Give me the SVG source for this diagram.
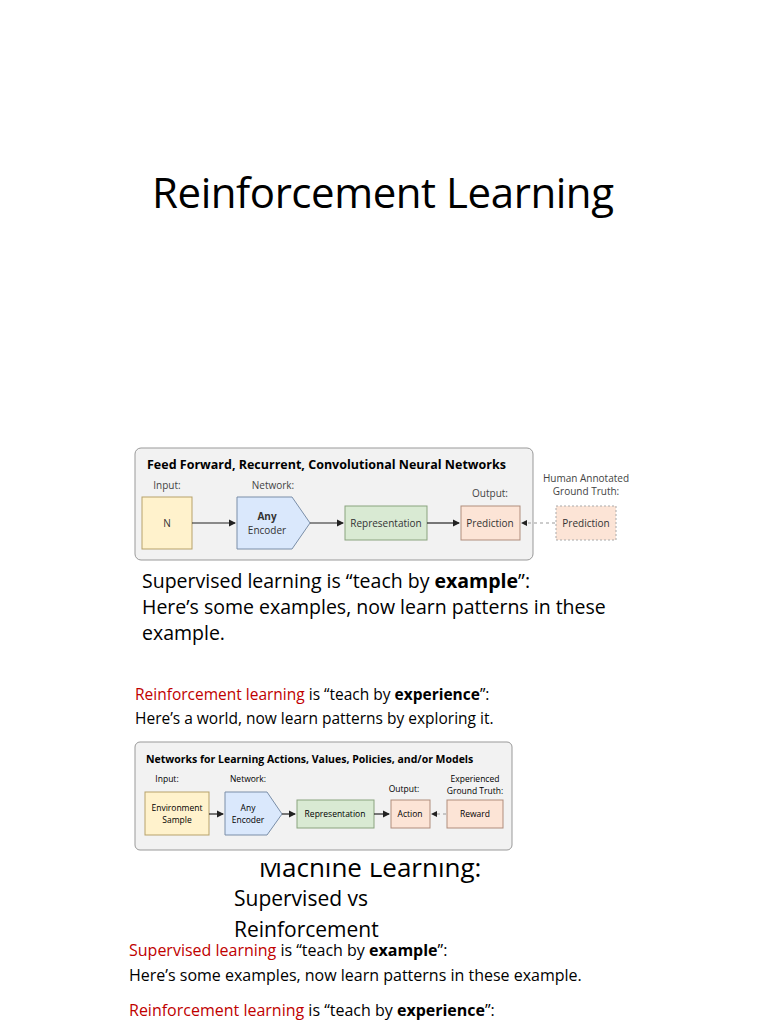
<svg xmlns="http://www.w3.org/2000/svg" width="768" height="1024" viewBox="0 0 768 1024">
<style>
text{font-family:"Open Sans","Liberation Sans",sans-serif;fill:#000}
.s{font-size:10px;fill:#444}
.t{font-size:10px;fill:#333}
.b{font-weight:bold}
.r{fill:#c00000}
.ln{stroke:#222;stroke-width:1.2;fill:none}
.dl{stroke:#999;stroke-width:1.2;stroke-dasharray:3,3;fill:none}
</style>
<defs>
<marker id="a" markerWidth="6" markerHeight="6" refX="5" refY="3" orient="auto"><path d="M0,0L6,3L0,6z" fill="#222"/></marker>
</defs>
<rect width="768" height="1024" fill="#fff"/>
<text x="383" y="208" font-size="42" text-anchor="middle" textLength="462">Reinforcement Learning</text>

<text x="370" y="877" font-size="26" text-anchor="middle">Machine Learning:</text>
<rect x="130" y="848" width="400" height="15" fill="#fff"/>

<g id="diagram1">
<rect x="135" y="448" width="398" height="112" rx="6" fill="#f2f2f2" stroke="#999"/>
<text x="147" y="469" font-size="12.5" class="b">Feed Forward, Recurrent, Convolutional  Neural Networks</text>
<text x="167" y="489" class="s" text-anchor="middle">Input:</text>
<text x="273" y="489" class="s" text-anchor="middle">Network:</text>
<text x="490" y="497" class="s" text-anchor="middle">Output:</text>
<text x="586" y="482" class="s" text-anchor="middle">Human Annotated</text>
<text x="586" y="495" class="s" text-anchor="middle">Ground Truth:</text>
<g id="n1"><rect x="142" y="497" width="50" height="52" fill="#fff2cc" stroke="#b7a26a"/><text x="167" y="527" class="t" text-anchor="middle">N</text></g>
<g id="enc1"><path d="M237,497H292L310,523L292,549H237Z" fill="#dae8fc" stroke="#7a8ea8"/><text x="267" y="520" class="t b" text-anchor="middle">Any</text><text x="267" y="534" class="t" text-anchor="middle">Encoder</text></g>
<g id="rep1"><rect x="345" y="506" width="82" height="34" fill="#d9ead3" stroke="#8aa37f"/><text x="386" y="527" class="t" text-anchor="middle">Representation</text></g>
<g id="pred1"><rect x="461" y="506" width="59" height="34" fill="#fce4d6" stroke="#b08d7d"/><text x="490" y="527" class="t" text-anchor="middle">Prediction</text></g>
<g id="gt1"><rect x="556" y="506" width="60" height="34" fill="#fce4d6" stroke="#aaa" stroke-dasharray="2,2"/><text x="586" y="527" class="t" text-anchor="middle">Prediction</text></g>
<g id="c1">
<path class="ln" d="M192,523H235" marker-end="url(#a)"/>
<path class="ln" d="M310,523H343" marker-end="url(#a)"/>
<path class="ln" d="M427,523H459" marker-end="url(#a)"/>
<path class="dl" d="M555,523H528"/><path d="M527,520L521,523L527,526z" fill="#222"/>
</g>
</g>

<text x="142" y="588" font-size="19.5">Supervised learning is “teach by <tspan class="b">example</tspan>”:</text>
<text x="142" y="614" font-size="19.5">Here’s some examples, now learn patterns in these</text>
<text x="142" y="640" font-size="19.5">example.</text>

<text x="135" y="700" font-size="15.5"><tspan class="r">Reinforcement learning</tspan> is “teach by <tspan class="b">experience</tspan>”:</text>
<text x="135" y="724" font-size="15.5">Here’s a world, now learn patterns by exploring it.</text>

<g id="diagram2">
<rect x="135" y="742" width="377" height="108" rx="5" fill="#f2f2f2" stroke="#999"/>
<text x="146" y="763" font-size="10.5" class="b">Networks for Learning Actions, Values, Policies, and/or Models</text>
<text x="167" y="782" font-size="8.5" fill="#444" text-anchor="middle">Input:</text>
<text x="248" y="782" font-size="8.5" fill="#444" text-anchor="middle">Network:</text>
<text x="404" y="792" font-size="8.5" fill="#444" text-anchor="middle">Output:</text>
<text x="475" y="782" font-size="8.5" fill="#444" text-anchor="middle">Experienced</text>
<text x="475" y="794" font-size="8.5" fill="#444" text-anchor="middle">Ground Truth:</text>
<g id="env2"><rect x="145" y="792" width="64" height="43" fill="#fff2cc" stroke="#b7a26a"/><text x="177" y="811" font-size="8.5" fill="#333" text-anchor="middle">Environment</text><text x="177" y="823" font-size="8.5" fill="#333" text-anchor="middle">Sample</text></g>
<g id="enc2"><path d="M225,792H267L282,814L267,835H225Z" fill="#dae8fc" stroke="#7a8ea8"/><text x="248" y="811" font-size="8.5" fill="#333" text-anchor="middle">Any</text><text x="248" y="823" font-size="8.5" fill="#333" text-anchor="middle">Encoder</text></g>
<g id="rep2"><rect x="297" y="800" width="77" height="28" fill="#d9ead3" stroke="#8aa37f"/><text x="335" y="817" font-size="8.5" fill="#333" text-anchor="middle">Representation</text></g>
<g id="act2"><rect x="391" y="800" width="39" height="28" fill="#fce4d6" stroke="#b08d7d"/><text x="410" y="817" font-size="8.5" fill="#333" text-anchor="middle">Action</text></g>
<g id="rew2"><rect x="447" y="800" width="56" height="28" fill="#fce4d6" stroke="#b08d7d"/><text x="475" y="817" font-size="8.5" fill="#333" text-anchor="middle">Reward</text></g>
<g id="c2">
<path class="ln" d="M209,814H223" marker-end="url(#a)"/>
<path class="ln" d="M282,814H295" marker-end="url(#a)"/>
<path class="ln" d="M374,814H389" marker-end="url(#a)"/>
<path class="dl" d="M446,814H437" stroke="#555"/><path d="M437,811L431,814L437,817z" fill="#222"/>
</g>
</g>

<text x="234" y="906" font-size="21">Supervised vs</text>
<text x="234" y="937" font-size="21">Reinforcement</text>

<text x="129" y="956" font-size="16"><tspan class="r">Supervised learning</tspan> is “teach by <tspan class="b">example</tspan>”:</text>
<text x="129" y="981" font-size="16">Here’s some examples, now learn patterns in these example.</text>
<text x="129" y="1016" font-size="16"><tspan class="r">Reinforcement learning</tspan> is “teach by <tspan class="b">experience</tspan>”:</text>
</svg>
